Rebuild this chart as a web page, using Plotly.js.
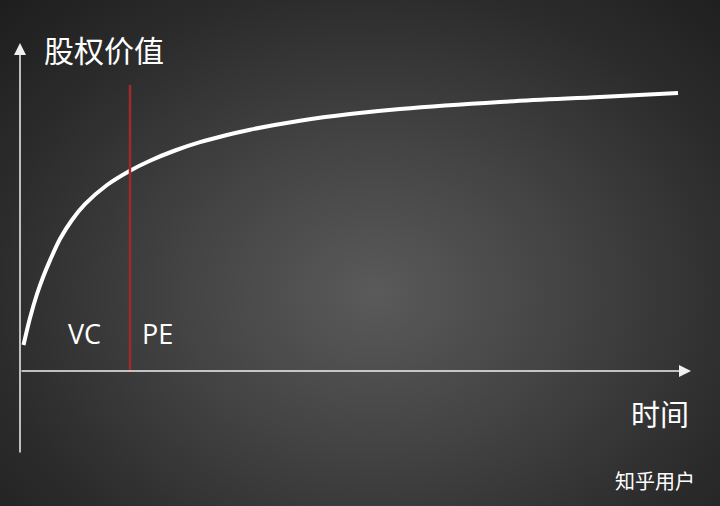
<!DOCTYPE html>
<html>
<head>
<meta charset="utf-8">
<script src="https://cdn.plot.ly/plotly-3.0.1.min.js"></script>
<style>
html,body{margin:0;padding:0;}
body{width:720px;height:506px;overflow:hidden;
background:radial-gradient(ellipse 75% 85% at 52% 58%, #5a5a5a 0%, #444444 35%, #2c2c2c 70%, #1c1c1c 100%);}
#chart{width:720px;height:506px;}
</style>
</head>
<body>
<div id="chart"></div>
<script>
// time (x) and equity value (y)
const timeVals = [3.5, 10, 16.7, 23.3, 30, 40, 52, 65, 87, 110, 130, 155, 180, 205, 230, 280, 330, 380, 480, 580, 658];
const equityVals = [26, 53, 76, 94.5, 110.6, 132, 151, 166.8, 186, 200.3, 210.3, 220.5, 228.8, 235.5, 241.3, 250.3, 257, 262, 269, 274, 278];
const splitTime = 110;   // VC / PE boundary
const splitTop = 286;
const yAxisTitle = "股权价值";
const xAxisTitle = "时间";
const stageLabels = ["VC", "PE"];
const stageLabelX = [64, 137];
const stageLabelY = 38;
const watermark = "知乎用户";

const font = '"Noto Sans CJK SC","Noto Sans",sans-serif';

const trace = {
  x: timeVals, y: equityVals, type: 'scatter', mode: 'lines',
  line: {color: '#ffffff', width: 4, shape: 'spline', smoothing: 1},
  hoverinfo: 'skip'
};

const layout = {
  width: 720, height: 506,
  margin: {l: 0, r: 0, t: 0, b: 0},
  paper_bgcolor: 'rgba(0,0,0,0)',
  plot_bgcolor: 'rgba(0,0,0,0)',
  showlegend: false,
  xaxis: {range: [-20, 700], visible: false, fixedrange: true},
  yaxis: {range: [-135, 371], visible: false, fixedrange: true},
  shapes: [
    {type: 'line', xref: 'x', yref: 'y', x0: splitTime, x1: splitTime, y0: 0, y1: splitTop,
     line: {color: '#9e2a2b', width: 2.5}}
  ],
  annotations: [
    // y axis arrow
    {x: 0, y: 328, ax: 0, ay: -83, xref: 'x', yref: 'y', axref: 'x', ayref: 'y',
     showarrow: true, arrowhead: 2, arrowsize: 1.6, arrowwidth: 1.5, arrowcolor: '#f0f0f0', text: ''},
    // x axis arrow
    {x: 671, y: 0, ax: 0, ay: 0, xref: 'x', yref: 'y', axref: 'x', ayref: 'y',
     showarrow: true, arrowhead: 2, arrowsize: 1.6, arrowwidth: 1.5, arrowcolor: '#f0f0f0', text: ''},
    {x: 84, y: 322, xref: 'x', yref: 'y', text: yAxisTitle, showarrow: false,
     font: {family: font, size: 30, color: '#ffffff'}},
    {x: 640, y: -42, xref: 'x', yref: 'y', text: xAxisTitle, showarrow: false,
     font: {family: font, size: 29, color: '#ffffff'}},
    {x: stageLabelX[0], y: stageLabelY, xref: 'x', yref: 'y', text: stageLabels[0], showarrow: false,
     font: {family: '"Open Sans","Noto Sans",sans-serif', size: 27, color: '#ffffff'}},
    {x: stageLabelX[1], y: stageLabelY, xref: 'x', yref: 'y', text: stageLabels[1], showarrow: false,
     font: {family: '"Open Sans","Noto Sans",sans-serif', size: 27, color: '#ffffff'}},
    {x: 635, y: -109, xref: 'x', yref: 'y', text: watermark, showarrow: false,
     font: {family: font, size: 20, color: '#ffffff'}}
  ]
};

Plotly.newPlot('chart', [trace], layout, {staticPlot: true, displayModeBar: false});
</script>
</body>
</html>
